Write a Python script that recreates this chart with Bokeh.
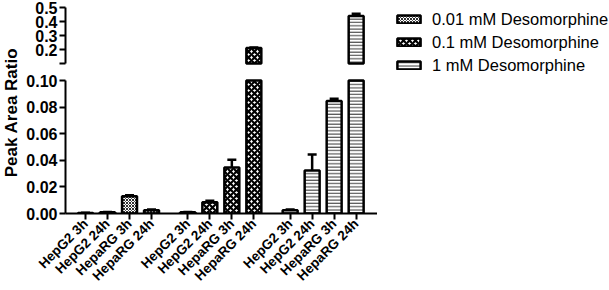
import math

import numpy as np
from bokeh.plotting import figure
from bokeh.models import (Range1d, FixedTicker, CustomJSTickFormatter, Whisker, TeeHead,
                          ColumnDataSource, Legend, LegendItem, Label)
from bokeh.layouts import row, column
from bokeh.embed import file_html
from bokeh.resources import INLINE

# ---------------- data ----------------
samples = ["HepG2 3h", "HepG2 24h", "HepaRG 3h", "HepaRG 24h"]
concentrations = ["0.01 mM Desomorphine", "0.1 mM Desomorphine", "1 mM Desomorphine"]
ratio_001 = [0.0004, 0.0010, 0.0130, 0.0025]
ratio_01 = [0.0010, 0.0085, 0.0345, 0.2100]
ratio_1 = [0.0025, 0.0323, 0.0845, 0.4400]
upper_001 = [0.0005, 0.0012, 0.0137, 0.0030]
upper_01 = [0.0012, 0.0095, 0.0405, 0.2150]
upper_1 = [0.0030, 0.0444, 0.0862, 0.4550]
y_ticks_low = [0.00, 0.02, 0.04, 0.06, 0.08, 0.10]
y_ticks_high = [0.1, 0.2, 0.3, 0.4, 0.5]
axis_break = 0.10
y_top_end = 0.5

ratios = [ratio_001, ratio_01, ratio_1]
uppers = [upper_001, upper_01, upper_1]

pattern_styles = [
    dict(hatch_pattern="diagonal_cross", hatch_scale=3, hatch_weight=1, hatch_color="#303030"),
    dict(hatch_pattern="diagonal_cross", hatch_scale=6, hatch_weight=2.2, hatch_color="black"),
    dict(hatch_pattern="horizontal_line", hatch_scale=3.3, hatch_weight=1, hatch_color="#333333"),
]

GAP = 0.65
BAR_W = 0.68
LW = 2.5
FONT = "Liberation Sans"

x_range = Range1d(-0.91, 13.27)


def style(ps):
    return dict(fill_color="white", line_color="black", line_width=LW, **ps)


def style_axis(ax, size):
    ax.axis_line_width = 2
    ax.axis_line_color = "black"
    ax.major_tick_line_width = 2
    ax.major_tick_line_color = "black"
    ax.major_tick_out = 6
    ax.major_tick_in = 0
    ax.minor_tick_line_color = None
    ax.major_label_text_font = FONT
    ax.major_label_text_font_style = "bold"
    ax.major_label_text_font_size = size
    ax.major_label_text_color = "black"
    ax.major_label_standoff = 2


common = dict(output_backend="svg", toolbar_location=None, x_range=x_range,
              min_border_left=40, min_border_right=0, outline_line_color=None,
              frame_width=312)

# upper segment: 0.1 .. 0.5 (a little padding below 0.1 so bar edges show)
high_pad = (y_top_end - axis_break) * 2 / 56
p_high = figure(frame_height=58, min_border_top=7, min_border_bottom=7,
                y_range=Range1d(axis_break - high_pad, y_top_end), x_axis_location=None, **common)
# lower segment: 0 .. 0.10 (a little padding above 0.10)
low_pad = axis_break * 2 / 133
p_low = figure(frame_height=135, min_border_top=6, min_border_bottom=77,
               y_range=Range1d(0, axis_break + low_pad), **common)

for p in (p_high, p_low):
    p.grid.visible = False
    p.background_fill_color = "white"

all_x = []
all_labels = []
for g, (vals, ups) in enumerate(zip(ratios, uppers)):
    xs = [round(g * (len(samples) + GAP) + j, 3) for j in range(len(samples))]
    all_x += xs
    all_labels += samples
    st = style(pattern_styles[g])

    low = ColumnDataSource(dict(x=xs, top=[min(v, axis_break) for v in vals]))
    p_low.vbar(x="x", top="top", bottom=0, width=BAR_W, source=low, **st)

    hi_idx = [i for i, v in enumerate(vals) if v > axis_break]
    high = ColumnDataSource(dict(x=[xs[i] for i in hi_idx], top=[vals[i] for i in hi_idx]))
    p_high.vbar(x="x", top="top", bottom=axis_break, width=BAR_W, source=high, **st)

    lo_w = [i for i, u in enumerate(ups) if u <= axis_break]
    w_low = ColumnDataSource(dict(x=[xs[i] for i in lo_w], lower=[vals[i] for i in lo_w],
                                  upper=[ups[i] for i in lo_w]))
    p_low.add_layout(Whisker(source=w_low, base="x", lower="lower", upper="upper",
                             dimension="height", line_width=LW, line_color="black",
                             upper_head=TeeHead(size=9, line_width=LW, line_color="black"),
                             lower_head=None))
    w_high = ColumnDataSource(dict(x=[xs[i] for i in hi_idx], lower=[vals[i] for i in hi_idx],
                                   upper=[ups[i] for i in hi_idx]))
    p_high.add_layout(Whisker(source=w_high, base="x", lower="lower", upper="upper",
                              dimension="height", line_width=LW, line_color="black",
                              upper_head=TeeHead(size=9, line_width=LW, line_color="black"),
                              lower_head=None))

# axes
style_axis(p_high.yaxis[0], "16px")
p_high.yaxis.ticker = FixedTicker(ticks=y_ticks_high)
p_high.yaxis.formatter = CustomJSTickFormatter(code="return tick < 0.15 ? '' : tick.toFixed(1);")
p_high.yaxis.bounds = (axis_break, y_top_end)

style_axis(p_low.yaxis[0], "16px")
p_low.yaxis.ticker = FixedTicker(ticks=y_ticks_low)
p_low.yaxis.formatter = CustomJSTickFormatter(code="return tick.toFixed(2);")
p_low.yaxis.bounds = (0, axis_break)

style_axis(p_low.xaxis[0], "13.5px")
p_low.xaxis.ticker = FixedTicker(ticks=all_x)
p_low.xaxis.formatter = CustomJSTickFormatter(args=dict(labels=all_labels),
                                              code="return labels[index];")
p_low.xaxis.major_label_orientation = math.pi / 4

# y-axis title in its own narrow canvas (spans both panels)
p_lab = figure(width=23, height=290, x_range=Range1d(0, 23), y_range=Range1d(0, 290),
               x_axis_location=None, y_axis_location=None, min_border=0,
               outline_line_color=None, toolbar_location=None, output_backend="svg")
p_lab.grid.visible = False
p_lab.add_layout(Label(x=10.5, y=290 - 112, text="Peak Area Ratio", angle=math.pi / 2,
                       text_align="center", text_baseline="middle", text_font=FONT,
                       text_font_style="bold", text_font_size="17px", text_color="black"))

# legend canvas (swatch renderers carry no drawable data, only the styles)
p_leg = figure(width=234, height=290, x_range=Range1d(0, 1), y_range=Range1d(0, 1),
               x_axis_location=None, y_axis_location=None, min_border=0,
               outline_line_color=None, toolbar_location=None, output_backend="svg")
p_leg.grid.visible = False
items = []
for g, name in enumerate(concentrations):
    nan = np.array([np.nan])
    r = p_leg.vbar(x=nan, top=nan, bottom=nan, width=0.5, **style(pattern_styles[g]))
    items.append(LegendItem(label=name, renderers=[r]))
legend = Legend(items=items, location=(17, 215), glyph_width=29, glyph_height=10,
                label_height=20, label_standoff=9, spacing=3, padding=0, margin=0,
                border_line_color=None, background_fill_alpha=0,
                label_text_font=FONT, label_text_font_size="16.5px", label_text_color="black")
p_leg.add_layout(legend)

layout = row(p_lab, column(p_high, p_low), p_leg)

open("out.html", "w").write(file_html(layout, INLINE))
